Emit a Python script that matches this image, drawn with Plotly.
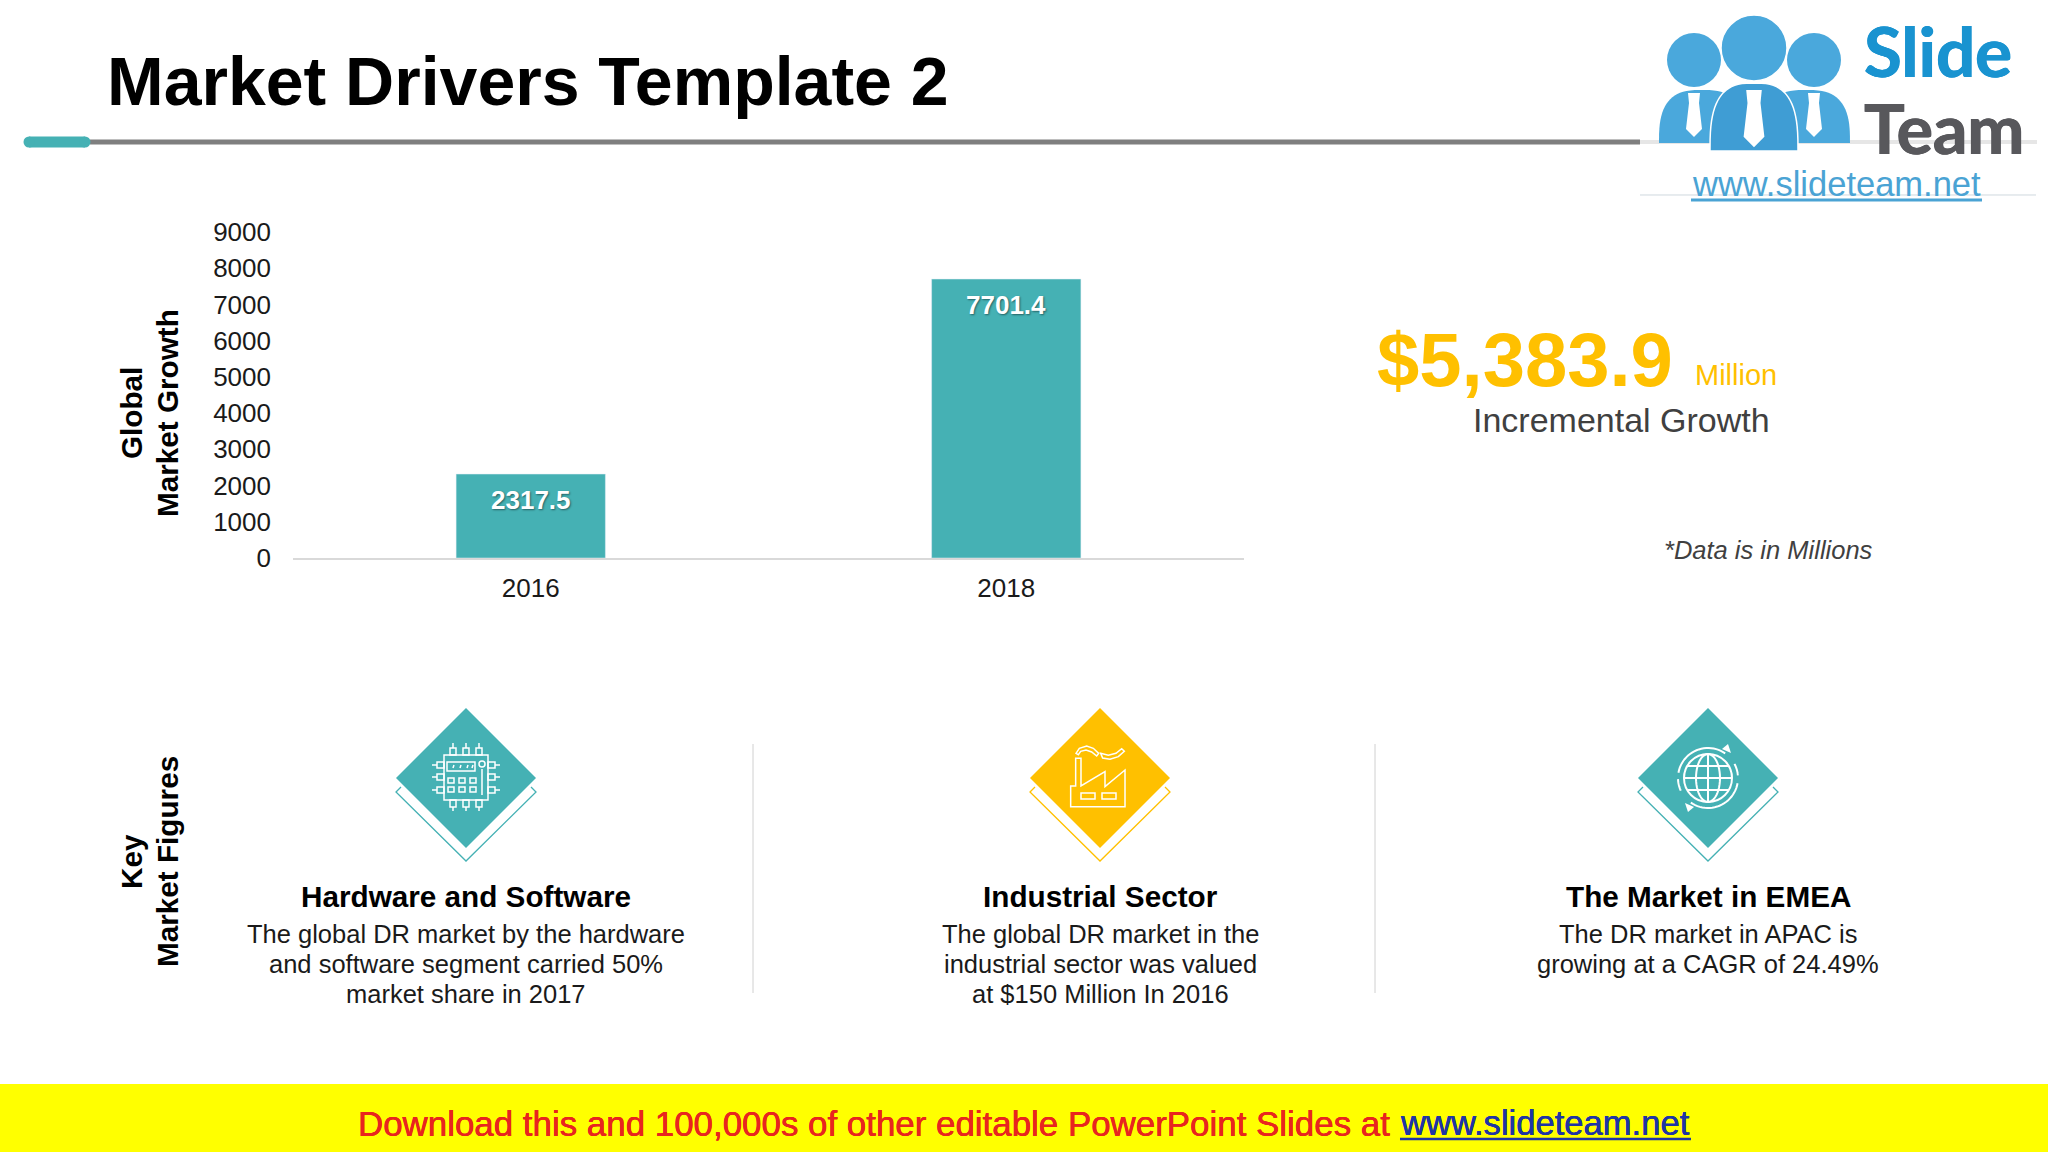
"""
Slide "Market Drivers Template 2": bar chart, key figures and icons.
"""

import math

from plotly.graph_objects import Bar, Figure

W = 2048
H = 1152

# chart data
years = ["2016", "2018"]
growth = [2317.5, 7701.4]
growth_labels = ["2317.5", "7701.4"]
y_ticks = [0, 1000, 2000, 3000, 4000, 5000, 6000, 7000, 8000, 9000]

# key market figures
card_titles = ["Hardware and Software", "Industrial Sector", "The Market in EMEA"]
card_lines = [
    ["The global DR market by the hardware",
     "and software segment carried 50%",
     "market share in 2017"],
    ["The global DR market in the",
     "industrial sector was valued",
     "at $150 Million In 2016"],
    ["The DR market in APAC is",
     "growing at a CAGR of 24.49%"],
]
card_centers = [466, 1100, 1708]
diamond_colors = ["#45b1b4", "#ffc000", "#45b1b4"]

TEAL = "#45b1b4"
GOLD = "#ffc000"
FONT = "Liberation Sans"

shapes = []
annotations = []


#### helpers, everything is given in pixels of the slide
def fx(x):
    return x / W


def fy(y):
    return 1 - y / H


def path(points, close=False):
    s = "M " + " L ".join(f"{fx(x):.5f},{fy(y):.5f}" for x, y in points)
    return s + " Z" if close else s


def add_path(points, close=False, fill=None, line=None, width=1.5):
    shapes.append({
        "type": "path", "xref": "paper", "yref": "paper",
        "path": path(points, close),
        "fillcolor": fill if fill else "rgba(0,0,0,0)",
        "line": {"color": line if line else "rgba(0,0,0,0)", "width": width if line else 0},
    })


def add_rect(x0, y0, x1, y1, fill=None, line=None, width=1.5):
    add_path([(x0, y0), (x1, y0), (x1, y1), (x0, y1)], True, fill, line, width)


def add_circle(cx, cy, r, fill=None, line=None, width=1.5):
    shapes.append({
        "type": "circle", "xref": "paper", "yref": "paper",
        "x0": fx(cx - r), "x1": fx(cx + r), "y0": fy(cy + r), "y1": fy(cy - r),
        "fillcolor": fill if fill else "rgba(0,0,0,0)",
        "line": {"color": line if line else "rgba(0,0,0,0)", "width": width if line else 0},
    })


def arc(cx, cy, rx, ry, a0, a1, n=24):
    # angles in degrees, 0 to the right, going clockwise on screen
    pts = []
    for i in range(n + 1):
        a = math.radians(a0 + (a1 - a0) * i / n)
        pts.append((cx + rx * math.cos(a), cy + ry * math.sin(a)))
    return pts


def shoulders(cx, bottom, rx, ry):
    # top of a body in the logo: flatter than an ellipse, so the shoulders look broad
    pts = []
    for i in range(41):
        a = math.pi + math.pi * i / 40
        c, s = math.cos(a), math.sin(a)
        pts.append((cx + rx * math.copysign(abs(c) ** 0.7, c),
                    bottom + ry * math.copysign(abs(s) ** 0.7, s)))
    return pts


def text(x, y, s, size, color="#000000", bold=False, italic=False, anchor="center", angle=0,
         font=FONT, heavy=0):
    if bold:
        s = "<b>" + s + "</b>"
    if italic:
        s = "<i>" + s + "</i>"
    style = {"family": font, "size": size, "color": color}
    if heavy:
        # the reference renders these a little heavier than the font does
        style["shadow"] = f"{heavy}px 0 0 {color}, -{heavy}px 0 0 {color}"
    annotations.append({
        "xref": "paper", "yref": "paper", "x": fx(x), "y": fy(y),
        "text": s, "showarrow": False, "xanchor": anchor, "yanchor": "middle",
        "textangle": angle, "font": style,
        "borderpad": 0, "borderwidth": 0,
    })


#### icons
def diamond(cx, color):
    add_path([(cx, 708), (cx + 70, 778), (cx, 848), (cx - 70, 778)], True, fill=color)
    add_path([(cx - 65, 787), (cx - 70, 792), (cx, 861), (cx + 70, 792), (cx + 65, 787)],
             line=color, width=1.3)


def chip_icon(cx):
    c = "#ffffff"
    add_rect(cx - 22, 755, cx + 22, 800, line=c)
    for dx in (-13, 0, 13):
        add_rect(cx + dx - 3, 748, cx + dx + 3, 755, line=c)
        add_path([(cx + dx, 743), (cx + dx, 748)], line=c)
        add_rect(cx + dx - 3, 800, cx + dx + 3, 807, line=c)
        add_path([(cx + dx, 807), (cx + dx, 811)], line=c)
    for y in (765, 777, 790):
        add_rect(cx - 29, y - 3, cx - 22, y + 3, line=c)
        add_path([(cx - 34, y), (cx - 29, y)], line=c)
        add_rect(cx + 22, y - 3, cx + 29, y + 3, line=c)
        add_path([(cx + 29, y), (cx + 34, y)], line=c)
    add_rect(cx - 19, 762, cx + 9, 771, line=c)
    for dx in (-13, -6, 1, 6):
        add_path([(cx + dx, 768), (cx + dx + 1, 765)], line=c)
    add_circle(cx + 16, 764, 3, line=c)
    add_path([(cx + 16, 769), (cx + 16, 795)], line=c)
    for dy in (778, 787):
        for dx in (-18, -7, 4):
            add_rect(cx + dx, dy, cx + dx + 6, dy + 5, line=c)


def factory_icon(cx):
    c = "#ffffff"
    x0 = cx - 120  # the icon was measured from a crop starting at x=980
    def p(a, b):
        return (x0 + a / 3, 690 + b / 3)
    add_path([p(272, 350), p(272, 288), p(287, 288), p(287, 205), p(303, 205), p(303, 288),
              p(375, 245), p(375, 290), p(435, 240), p(435, 350)], True, line=c)
    add_rect(x0 + 101, 793, x0 + 115, 799, line=c)
    add_rect(x0 + 122, 793, x0 + 136, 799, line=c)
    add_path([p(288, 190), p(298, 175), p(320, 168), p(340, 175), p(356, 190), p(350, 198),
              p(335, 186), p(318, 180), p(302, 184), p(295, 194)], True, line=c)
    add_path([p(362, 190), p(385, 196), p(408, 190), p(425, 176), p(433, 184), p(415, 200),
              p(390, 208), p(368, 204)], True, line=c)


def globe_icon(cx):
    c = "#ffffff"
    cy = 778
    add_circle(cx, cy, 24, line=c, width=2)
    add_path(arc(cx, cy, 12, 24, -90, 90), line=c, width=2)
    add_path(arc(cx, cy, 12, 24, 90, 270), line=c, width=2)
    add_path([(cx, cy - 24), (cx, cy + 24)], line=c, width=2)
    add_path([(cx - 24, cy), (cx + 24, cy)], line=c, width=2)
    add_path([(cx - 20, cy - 12), (cx + 20, cy - 12)], line=c, width=2)
    add_path([(cx - 20, cy + 12), (cx + 20, cy + 12)], line=c, width=2)
    # ring of arrows
    add_path(arc(cx, cy, 30, 30, 190, 305), line=c, width=2)
    add_path(arc(cx, cy, 30, 30, 10, 125), line=c, width=2)
    add_path(arc(cx, cy, 30, 30, -28, -5), line=c, width=2)
    add_path(arc(cx, cy, 30, 30, 155, 178), line=c, width=2)
    add_path([(cx + 14, cy - 29), (cx + 23, cy - 25), (cx + 20, cy - 34)], True, fill=c)
    add_path([(cx - 14, cy + 29), (cx - 23, cy + 25), (cx - 20, cy + 34)], True, fill=c)


def logo():
    blue = "#4aa8dc"
    add_rect(1640, 0, 2048, 196, fill="#ffffff")
    add_path([(1640, 142), (2037, 142)], line="#e6e6e6", width=4)
    # bodies
    add_path(shoulders(1702, 143, 43, 53), True, fill=blue)
    add_path(shoulders(1806, 143, 44, 53), True, fill=blue)
    add_path(shoulders(1754, 151, 44, 68), True, fill="#3f9dd4", line="#ffffff", width=1.5)
    add_circle(1694, 60, 27, fill=blue)
    add_circle(1814, 60, 27, fill=blue)
    add_circle(1754, 48, 33, fill=blue, line="#ffffff", width=1.5)
    # ties
    for cx, top, k in [(1694, 93, 1), (1754, 90, 1.3), (1814, 93, 1)]:
        add_path([(cx - 6 * k, top), (cx + 6 * k, top), (cx + 5 * k, top + 10 * k),
                  (cx + 8 * k, top + 36 * k), (cx, top + 44 * k), (cx - 8 * k, top + 36 * k),
                  (cx - 5 * k, top + 10 * k)], True, fill="#ffffff")
    text(1864, 50, "Slide", 69, color="#1993d0", bold=True, anchor="left", font="Lato", heavy=0.6)
    text(1864, 127, "Team", 68, color="#58585c", bold=True, anchor="left", font="Lato", heavy=0.6)
    text(1836, 184, "www.slideteam.net", 34.5, color="#4aa3d4")
    add_path([(1640, 195), (2036, 195)], line="#cfd8de", width=1)
    add_path([(1691, 200), (1982, 200)], line="#4aa3d4", width=3)


#### slide furniture
add_path([(90, 142), (1640, 142)], line="#7f7f7f", width=5)
add_path([(29, 142), (85, 142)], line=TEAL, width=11)
add_circle(29, 142, 5.5, fill=TEAL)
add_circle(85, 142, 5.5, fill=TEAL)
text(107, 81, "Market Drivers Template 2", 68, bold=True, anchor="left")
logo()

add_rect(0, 1084, W, H, fill="#ffff00")
text(358, 1123, "Download this and 100,000s of other editable PowerPoint Slides at", 34.9,
     color="#e8251f", anchor="left", heavy=0.25)
text(1400, 1123, "www.slideteam.net", 34.6, color="#1f35a5", anchor="left", heavy=0.25)
add_path([(1400, 1139), (1691, 1139)], line="#1f35a5", width=2.5)

#### side titles
text(131, 413, "Global", 29.7, bold=True, angle=-90)
text(167, 413, "Market Growth", 29.7, bold=True, angle=-90)
text(131, 862, "Key", 29.7, bold=True, angle=-90)
text(167, 862, "Market Figures", 29.7, bold=True, angle=-90)

#### incremental growth block
text(1377, 359, "$5,383.9", 76, color=GOLD, bold=True, anchor="left")
text(1695, 375, "Million", 29, color=GOLD, anchor="left")
text(1621, 420, "Incremental Growth", 34, color="#404040")
text(1664, 550, "*Data is in Millions", 25.5, color="#404040", italic=True, anchor="left")

#### cards
for i in range(3):
    cx = card_centers[i]
    diamond(cx, diamond_colors[i])
    text(cx, 896, card_titles[i], 29.7, bold=True)
    for j, line in enumerate(card_lines[i]):
        text(cx, 934 + j * 30, line, 25.5, color="#1a1a1a")
chip_icon(card_centers[0])
factory_icon(card_centers[1])
globe_icon(card_centers[2])

for x in (753, 1375):
    add_path([(x, 744), (x, 993)], line="#e0e0e0", width=1.5)

#### bar chart
fig = Figure()
fig.add_trace(Bar(x=years, y=growth, marker_color=TEAL, width=0.314, hoverinfo="skip"))

# on a category axis the annotations are placed by serial number
for i, (value, label) in enumerate(zip(growth, growth_labels)):
    annotations.append({
        "xref": "x", "yref": "y", "x": i, "y": value, "yshift": -26,
        "text": "<b>" + label + "</b>", "showarrow": False,
        "font": {"family": FONT, "size": 26, "color": "#ffffff",
                 "shadow": "1px 1px 2px rgba(0,0,0,0.45)"},
    })

fig.update_layout(
    width=W, height=H,
    margin={"l": 0, "r": 0, "t": 0, "b": 0, "pad": 0, "autoexpand": False},
    paper_bgcolor="#ffffff", plot_bgcolor="rgba(0,0,0,0)",
    showlegend=False,
    shapes=shapes, annotations=annotations,
    font={"family": FONT, "size": 26, "color": "#1a1a1a"},
    xaxis={
        "domain": [fx(293), fx(1244)], "type": "category", "showgrid": False,
        "zeroline": False, "showline": True, "linecolor": "#d9d9d9", "linewidth": 2,
        "ticks": "", "ticklabelstandoff": 6,
        "tickfont": {"family": FONT, "size": 26, "color": "#1a1a1a"},
    },
    yaxis={
        "domain": [fy(558), fy(232)], "range": [0, 9000], "tickmode": "array",
        "tickvals": y_ticks, "showgrid": False, "zeroline": False, "showline": False,
        "ticks": "", "ticklabelstandoff": 21,
        "tickfont": {"family": FONT, "size": 26, "color": "#1a1a1a"},
    },
)

# the page has a default margin of 8px around the figure
fig.write_html("out.html", config={"displayModeBar": False},
               post_script="document.body.style.margin = '0';")
